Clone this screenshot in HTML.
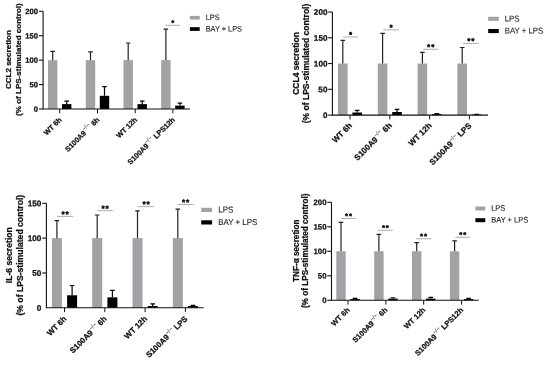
<!DOCTYPE html>
<html><head><meta charset="utf-8"><title>Figure</title>
<style>
html,body{margin:0;padding:0;background:#fff;}
body{width:550px;height:365px;overflow:hidden;}
svg{display:block;}
text{font-family:'Liberation Sans', Arial, sans-serif;font-weight:bold;fill:#111;stroke:#111;stroke-width:0.25px;}
.st{stroke:#000;stroke-width:0.35px;fill:#000;}
.lg{font-weight:normal;fill:#222;stroke:#222;stroke-width:0.1px;}
.sup{font-size:5.7px;font-weight:normal;fill:#5a5a5a;stroke:#5a5a5a;stroke-width:0.12px;}
</style></head>
<body>
<svg width="550" height="365" viewBox="0 0 550 365">
<rect width="550" height="365" fill="#fff"/>
<g>
<rect x="48" y="60.15" width="9.4" height="48.85" fill="#a2a1a6"/>
<rect x="62" y="104.11" width="9.4" height="4.89" fill="#000"/>
<path d="M52.7 60.15V51.3M50.4 51.3H55" stroke="#222" stroke-width="1.2" fill="none"/>
<path d="M66.7 104.11V101.18M64.4 101.18H69" stroke="#000" stroke-width="1.2" fill="none"/>
<path d="M59.7 109V113.3" stroke="#111" stroke-width="1"/>
<text transform="translate(62.1,120.3) rotate(-45)" text-anchor="end" class="lb" style="font-size:7.29px">WT 6h</text>
<rect x="85.8" y="60.15" width="9.4" height="48.85" fill="#a2a1a6"/>
<rect x="99.8" y="95.81" width="9.4" height="13.19" fill="#000"/>
<path d="M90.5 60.15V51.8M88.2 51.8H92.8" stroke="#222" stroke-width="1.2" fill="none"/>
<path d="M104.5 95.81V86.53M102.2 86.53H106.8" stroke="#000" stroke-width="1.2" fill="none"/>
<path d="M97.5 109V113.3" stroke="#111" stroke-width="1"/>
<text transform="translate(99.9,120.3) rotate(-45)" text-anchor="end" class="lb" style="font-size:7.29px">S100A9<tspan class="sup" dy="-3.4">−/−</tspan><tspan dy="3.4"> 6h</tspan></text>
<rect x="123.5" y="60.15" width="9.4" height="48.85" fill="#a2a1a6"/>
<rect x="137.5" y="104.11" width="9.4" height="4.89" fill="#000"/>
<path d="M128.2 60.15V43M125.9 43H130.5" stroke="#222" stroke-width="1.2" fill="none"/>
<path d="M142.2 104.11V101.18M139.9 101.18H144.5" stroke="#000" stroke-width="1.2" fill="none"/>
<path d="M135.2 109V113.3" stroke="#111" stroke-width="1"/>
<text transform="translate(137.6,120.3) rotate(-45)" text-anchor="end" class="lb" style="font-size:7.29px">WT 12h</text>
<rect x="161.2" y="60.15" width="9.4" height="48.85" fill="#a2a1a6"/>
<rect x="175.2" y="105.58" width="9.4" height="3.42" fill="#000"/>
<path d="M165.9 60.15V29.05M163.6 29.05H168.2" stroke="#222" stroke-width="1.2" fill="none"/>
<path d="M179.9 105.58V103.14M177.6 103.14H182.2" stroke="#000" stroke-width="1.2" fill="none"/>
<path d="M172.9 109V113.3" stroke="#111" stroke-width="1"/>
<path d="M165.3 25.3H180.2" stroke="#a4a4a4" stroke-width="0.9"/>
<text transform="translate(172.75,25.54) rotate(0.06)" text-anchor="middle" class="st" style="font-size:7.65px">*</text>
<text transform="translate(175.3,120.3) rotate(-45)" text-anchor="end" class="lb" style="font-size:7.29px">S100A9<tspan class="sup" dy="-3.4">−/−</tspan><tspan dy="3.4"> LPS12h</tspan></text>
<path d="M43.1 11.3V109H190" stroke="#111" stroke-width="1.1" fill="none"/>
<path d="M38.9 109H43.1" stroke="#111" stroke-width="1.1"/>
<text transform="translate(38.1,111.71) rotate(0.06)" text-anchor="end" class="tk" style="font-size:7.65px">0</text>
<path d="M38.9 84.58H43.1" stroke="#111" stroke-width="1.1"/>
<text transform="translate(38.1,87.29) rotate(0.06)" text-anchor="end" class="tk" style="font-size:7.65px">50</text>
<path d="M38.9 60.15H43.1" stroke="#111" stroke-width="1.1"/>
<text transform="translate(38.1,62.86) rotate(0.06)" text-anchor="end" class="tk" style="font-size:7.65px">100</text>
<path d="M38.9 35.73H43.1" stroke="#111" stroke-width="1.1"/>
<text transform="translate(38.1,38.44) rotate(0.06)" text-anchor="end" class="tk" style="font-size:7.65px">150</text>
<path d="M38.9 11.3H43.1" stroke="#111" stroke-width="1.1"/>
<text transform="translate(38.1,14.01) rotate(0.06)" text-anchor="end" class="tk" style="font-size:7.65px">200</text>
<rect x="189.9" y="15.9" width="9.8" height="3.7" fill="#a2a1a6"/>
<rect x="189.9" y="27.2" width="9.8" height="3.7" fill="#000"/>
<text transform="translate(205.7,19.9) scale(1,1.08) rotate(0.06)" class="lg" style="font-size:7.37px">LPS</text>
<text transform="translate(205.7,31.5) scale(1,1.08) rotate(0.06)" class="lg" style="font-size:7.37px">BAY + LPS</text>
<text transform="translate(10.8,59.6) rotate(-90)" text-anchor="middle" class="yt" style="font-size:8.05px">CCL2 secretion</text>
<text transform="translate(20.7,59.6) rotate(-90)" text-anchor="middle" class="yt" style="font-size:8.05px">(% of LPS-stimulated control)</text>
</g>
<g>
<rect x="338" y="63.55" width="9.6" height="51.55" fill="#a2a1a6"/>
<rect x="352.4" y="112.52" width="9.6" height="2.58" fill="#000"/>
<path d="M342.8 63.55V40.3M340.5 40.3H345.1" stroke="#222" stroke-width="1.2" fill="none"/>
<path d="M357.2 112.52V110.46M354.9 110.46H359.5" stroke="#000" stroke-width="1.2" fill="none"/>
<path d="M350 115.1V119.4" stroke="#111" stroke-width="1"/>
<path d="M343.1 37H358.1" stroke="#a4a4a4" stroke-width="0.9"/>
<text transform="translate(350.6,37.46) rotate(0.06)" text-anchor="middle" class="st" style="font-size:8.12px">*</text>
<text transform="translate(352.6,126.1) rotate(-45)" text-anchor="end" class="lb" style="font-size:8.12px">WT 6h</text>
<rect x="377.8" y="63.55" width="9.6" height="51.55" fill="#a2a1a6"/>
<rect x="392.2" y="112.01" width="9.6" height="3.09" fill="#000"/>
<path d="M382.6 63.55V33.3M380.3 33.3H384.9" stroke="#222" stroke-width="1.2" fill="none"/>
<path d="M397 112.01V109.43M394.7 109.43H399.3" stroke="#000" stroke-width="1.2" fill="none"/>
<path d="M389.8 115.1V119.4" stroke="#111" stroke-width="1"/>
<path d="M383.1 29.9H398.9" stroke="#a4a4a4" stroke-width="0.9"/>
<text transform="translate(391,30.36) rotate(0.06)" text-anchor="middle" class="st" style="font-size:8.12px">*</text>
<text transform="translate(392.4,126.1) rotate(-45)" text-anchor="end" class="lb" style="font-size:8.12px">S100A9<tspan class="sup" dy="-3.4">−/−</tspan><tspan dy="3.4"> 6h</tspan></text>
<rect x="417.6" y="63.55" width="9.6" height="51.55" fill="#a2a1a6"/>
<rect x="432" y="114.07" width="9.6" height="1.03" fill="#000"/>
<path d="M422.4 63.55V52.4M420.1 52.4H424.7" stroke="#222" stroke-width="1.2" fill="none"/>
<path d="M436.8 114.07V113.55M434.5 113.55H439.1" stroke="#000" stroke-width="1.2" fill="none"/>
<path d="M429.6 115.1V119.4" stroke="#111" stroke-width="1"/>
<path d="M423.1 49.3H438.3" stroke="#a4a4a4" stroke-width="0.9"/>
<text transform="translate(428.69,49.76) rotate(0.06)" text-anchor="middle" class="st" style="font-size:8.12px">*</text>
<text transform="translate(432.71,49.76) rotate(0.06)" text-anchor="middle" class="st" style="font-size:8.12px">*</text>
<text transform="translate(432.2,126.1) rotate(-45)" text-anchor="end" class="lb" style="font-size:8.12px">WT 12h</text>
<rect x="457.4" y="63.55" width="9.6" height="51.55" fill="#a2a1a6"/>
<rect x="471.8" y="114.58" width="9.6" height="0.52" fill="#000"/>
<path d="M462.2 63.55V47.5M459.9 47.5H464.5" stroke="#222" stroke-width="1.2" fill="none"/>
<path d="M476.6 114.58V114.33M474.3 114.33H478.9" stroke="#000" stroke-width="1.2" fill="none"/>
<path d="M469.4 115.1V119.4" stroke="#111" stroke-width="1"/>
<path d="M463.1 43.4H478.6" stroke="#a4a4a4" stroke-width="0.9"/>
<text transform="translate(468.84,43.86) rotate(0.06)" text-anchor="middle" class="st" style="font-size:8.12px">*</text>
<text transform="translate(472.86,43.86) rotate(0.06)" text-anchor="middle" class="st" style="font-size:8.12px">*</text>
<text transform="translate(472,126.1) rotate(-45)" text-anchor="end" class="lb" style="font-size:8.12px">S100A9<tspan class="sup" dy="-3.4">−/−</tspan><tspan dy="3.4"> LPS</tspan></text>
<path d="M332.4 12V115.1H488" stroke="#111" stroke-width="1.1" fill="none"/>
<path d="M328.2 115.1H332.4" stroke="#111" stroke-width="1.1"/>
<text transform="translate(327.4,117.98) rotate(0.06)" text-anchor="end" class="tk" style="font-size:8.12px">0</text>
<path d="M328.2 89.32H332.4" stroke="#111" stroke-width="1.1"/>
<text transform="translate(327.4,92.21) rotate(0.06)" text-anchor="end" class="tk" style="font-size:8.12px">50</text>
<path d="M328.2 63.55H332.4" stroke="#111" stroke-width="1.1"/>
<text transform="translate(327.4,66.43) rotate(0.06)" text-anchor="end" class="tk" style="font-size:8.12px">100</text>
<path d="M328.2 37.78H332.4" stroke="#111" stroke-width="1.1"/>
<text transform="translate(327.4,40.66) rotate(0.06)" text-anchor="end" class="tk" style="font-size:8.12px">150</text>
<path d="M328.2 12H332.4" stroke="#111" stroke-width="1.1"/>
<text transform="translate(327.4,14.88) rotate(0.06)" text-anchor="end" class="tk" style="font-size:8.12px">200</text>
<rect x="488.2" y="16.8" width="10.6" height="4.1" fill="#a2a1a6"/>
<rect x="488.2" y="29" width="10.6" height="4.1" fill="#000"/>
<text transform="translate(504.7,21.6) scale(1,1.08) rotate(0.06)" class="lg" style="font-size:7.82px">LPS</text>
<text transform="translate(504.7,33.4) scale(1,1.08) rotate(0.06)" class="lg" style="font-size:7.82px">BAY + LPS</text>
<text transform="translate(298.5,63.5) rotate(-90)" text-anchor="middle" class="yt" style="font-size:8.55px">CCL4 secretion</text>
<text transform="translate(308.6,63.5) rotate(-90)" text-anchor="middle" class="yt" style="font-size:8.55px">(% of LPS-stimulated control)</text>
</g>
<g>
<rect x="51.9" y="238.13" width="10" height="69.67" fill="#a2a1a6"/>
<rect x="67.1" y="295.26" width="10" height="12.54" fill="#000"/>
<path d="M56.9 238.13V220.7M54.6 220.7H59.2" stroke="#222" stroke-width="1.2" fill="none"/>
<path d="M72.1 295.26V285.51M69.8 285.51H74.4" stroke="#000" stroke-width="1.2" fill="none"/>
<path d="M64.5 307.8V312.1" stroke="#111" stroke-width="1"/>
<path d="M57.1 216.4H73.1" stroke="#a4a4a4" stroke-width="0.9"/>
<text transform="translate(63.07,216.9) rotate(0.06)" text-anchor="middle" class="st" style="font-size:8.22px">*</text>
<text transform="translate(67.13,216.9) rotate(0.06)" text-anchor="middle" class="st" style="font-size:8.22px">*</text>
<text transform="translate(67,319.4) rotate(-45)" text-anchor="end" class="lb" style="font-size:7.96px">WT 6h</text>
<rect x="92.2" y="238.13" width="10" height="69.67" fill="#a2a1a6"/>
<rect x="107.4" y="297.35" width="10" height="10.45" fill="#000"/>
<path d="M97.2 238.13V215M94.9 215H99.5" stroke="#222" stroke-width="1.2" fill="none"/>
<path d="M112.4 297.35V290.38M110.1 290.38H114.7" stroke="#000" stroke-width="1.2" fill="none"/>
<path d="M104.8 307.8V312.1" stroke="#111" stroke-width="1"/>
<path d="M97.1 210.7H112.9" stroke="#a4a4a4" stroke-width="0.9"/>
<text transform="translate(102.97,211.2) rotate(0.06)" text-anchor="middle" class="st" style="font-size:8.22px">*</text>
<text transform="translate(107.03,211.2) rotate(0.06)" text-anchor="middle" class="st" style="font-size:8.22px">*</text>
<text transform="translate(107.3,319.4) rotate(-45)" text-anchor="end" class="lb" style="font-size:7.96px">S100A9<tspan class="sup" dy="-3.4">−/−</tspan><tspan dy="3.4"> 6h</tspan></text>
<rect x="132.5" y="238.13" width="10" height="69.67" fill="#a2a1a6"/>
<rect x="147.7" y="306.06" width="10" height="1.74" fill="#000"/>
<path d="M137.5 238.13V210.9M135.2 210.9H139.8" stroke="#222" stroke-width="1.2" fill="none"/>
<path d="M152.7 306.06V303.97M150.4 303.97H155" stroke="#000" stroke-width="1.2" fill="none"/>
<path d="M145.1 307.8V312.1" stroke="#111" stroke-width="1"/>
<path d="M138.1 206.6H153.9" stroke="#a4a4a4" stroke-width="0.9"/>
<text transform="translate(143.97,207.1) rotate(0.06)" text-anchor="middle" class="st" style="font-size:8.22px">*</text>
<text transform="translate(148.03,207.1) rotate(0.06)" text-anchor="middle" class="st" style="font-size:8.22px">*</text>
<text transform="translate(147.6,319.4) rotate(-45)" text-anchor="end" class="lb" style="font-size:7.96px">WT 12h</text>
<rect x="172.8" y="238.13" width="10" height="69.67" fill="#a2a1a6"/>
<rect x="188" y="306.06" width="10" height="1.74" fill="#000"/>
<path d="M177.8 238.13V209.1M175.5 209.1H180.1" stroke="#222" stroke-width="1.2" fill="none"/>
<path d="M193 306.06V305.36M190.7 305.36H195.3" stroke="#000" stroke-width="1.2" fill="none"/>
<path d="M185.4 307.8V312.1" stroke="#111" stroke-width="1"/>
<path d="M177.6 204.5H193.6" stroke="#a4a4a4" stroke-width="0.9"/>
<text transform="translate(183.57,205) rotate(0.06)" text-anchor="middle" class="st" style="font-size:8.22px">*</text>
<text transform="translate(187.63,205) rotate(0.06)" text-anchor="middle" class="st" style="font-size:8.22px">*</text>
<text transform="translate(187.9,319.4) rotate(-45)" text-anchor="end" class="lb" style="font-size:7.96px">S100A9<tspan class="sup" dy="-3.4">−/−</tspan><tspan dy="3.4"> LPS</tspan></text>
<path d="M46.4 203.3V307.8H203.7" stroke="#111" stroke-width="1.1" fill="none"/>
<text transform="translate(41.4,310.72) rotate(0.06)" text-anchor="end" class="tk" style="font-size:8.22px">0</text>
<path d="M42.2 272.97H46.4" stroke="#111" stroke-width="1.1"/>
<text transform="translate(41.4,275.88) rotate(0.06)" text-anchor="end" class="tk" style="font-size:8.22px">50</text>
<path d="M42.2 238.13H46.4" stroke="#111" stroke-width="1.1"/>
<text transform="translate(41.4,241.05) rotate(0.06)" text-anchor="end" class="tk" style="font-size:8.22px">100</text>
<path d="M42.2 203.3H46.4" stroke="#111" stroke-width="1.1"/>
<text transform="translate(41.4,206.22) rotate(0.06)" text-anchor="end" class="tk" style="font-size:8.22px">150</text>
<rect x="201.2" y="207.8" width="10.9" height="4.2" fill="#a2a1a6"/>
<rect x="201.2" y="220.3" width="10.9" height="4.2" fill="#000"/>
<text transform="translate(218.3,212.6) scale(1,1.08) rotate(0.06)" class="lg" style="font-size:7.91px">LPS</text>
<text transform="translate(218.3,225) scale(1,1.08) rotate(0.06)" class="lg" style="font-size:7.91px">BAY + LPS</text>
<text transform="translate(12.3,255.2) rotate(-90)" text-anchor="middle" class="yt" style="font-size:8.65px">IL-6 secretion</text>
<text transform="translate(22.6,255.2) rotate(-90)" text-anchor="middle" class="yt" style="font-size:8.65px">(% of LPS-stimulated control)</text>
</g>
<g>
<rect x="336.3" y="251.3" width="9.4" height="49" fill="#a2a1a6"/>
<rect x="350.3" y="299.07" width="9.4" height="1.23" fill="#000"/>
<path d="M341 251.3V222.4M338.7 222.4H343.3" stroke="#222" stroke-width="1.2" fill="none"/>
<path d="M355 299.07V298.44M352.7 298.44H357.3" stroke="#000" stroke-width="1.2" fill="none"/>
<path d="M348 300.3V304.6" stroke="#111" stroke-width="1"/>
<path d="M340.8 218.4H356.3" stroke="#a4a4a4" stroke-width="0.9"/>
<text transform="translate(346.62,218.71) rotate(0.06)" text-anchor="middle" class="st" style="font-size:7.79px">*</text>
<text transform="translate(350.48,218.71) rotate(0.06)" text-anchor="middle" class="st" style="font-size:7.79px">*</text>
<text transform="translate(350.1,310.6) rotate(-45)" text-anchor="end" class="lb" style="font-size:7.46px">WT 6h</text>
<rect x="374.2" y="251.3" width="9.4" height="49" fill="#a2a1a6"/>
<rect x="388.2" y="298.59" width="9.4" height="1.71" fill="#000"/>
<path d="M378.9 251.3V234.4M376.6 234.4H381.2" stroke="#222" stroke-width="1.2" fill="none"/>
<path d="M392.9 298.59V297.75M390.6 297.75H395.2" stroke="#000" stroke-width="1.2" fill="none"/>
<path d="M385.9 300.3V304.6" stroke="#111" stroke-width="1"/>
<path d="M378 230.2H392.9" stroke="#a4a4a4" stroke-width="0.9"/>
<text transform="translate(383.52,230.51) rotate(0.06)" text-anchor="middle" class="st" style="font-size:7.79px">*</text>
<text transform="translate(387.38,230.51) rotate(0.06)" text-anchor="middle" class="st" style="font-size:7.79px">*</text>
<text transform="translate(388,310.6) rotate(-45)" text-anchor="end" class="lb" style="font-size:7.46px">S100A9<tspan class="sup" dy="-3.4">−/−</tspan><tspan dy="3.4"> 6h</tspan></text>
<rect x="412" y="251.3" width="9.4" height="49" fill="#a2a1a6"/>
<rect x="426" y="298.59" width="9.4" height="1.71" fill="#000"/>
<path d="M416.7 251.3V242.7M414.4 242.7H419" stroke="#222" stroke-width="1.2" fill="none"/>
<path d="M430.7 298.59V297.46M428.4 297.46H433" stroke="#000" stroke-width="1.2" fill="none"/>
<path d="M423.7 300.3V304.6" stroke="#111" stroke-width="1"/>
<path d="M416.2 238.8H430.9" stroke="#a4a4a4" stroke-width="0.9"/>
<text transform="translate(421.62,239.11) rotate(0.06)" text-anchor="middle" class="st" style="font-size:7.79px">*</text>
<text transform="translate(425.48,239.11) rotate(0.06)" text-anchor="middle" class="st" style="font-size:7.79px">*</text>
<text transform="translate(425.8,310.6) rotate(-45)" text-anchor="end" class="lb" style="font-size:7.46px">WT 12h</text>
<rect x="449.9" y="251.3" width="9.4" height="49" fill="#a2a1a6"/>
<rect x="463.9" y="299.07" width="9.4" height="1.23" fill="#000"/>
<path d="M454.6 251.3V240.8M452.3 240.8H456.9" stroke="#222" stroke-width="1.2" fill="none"/>
<path d="M468.6 299.07V298.44M466.3 298.44H470.9" stroke="#000" stroke-width="1.2" fill="none"/>
<path d="M461.6 300.3V304.6" stroke="#111" stroke-width="1"/>
<path d="M455.3 237.3H470.3" stroke="#a4a4a4" stroke-width="0.9"/>
<text transform="translate(460.87,237.61) rotate(0.06)" text-anchor="middle" class="st" style="font-size:7.79px">*</text>
<text transform="translate(464.73,237.61) rotate(0.06)" text-anchor="middle" class="st" style="font-size:7.79px">*</text>
<text transform="translate(463.7,310.6) rotate(-45)" text-anchor="end" class="lb" style="font-size:7.46px">S100A9<tspan class="sup" dy="-3.4">−/−</tspan><tspan dy="3.4"> LPS12h</tspan></text>
<path d="M331.5 202.3V300.3H478.8" stroke="#111" stroke-width="1.1" fill="none"/>
<path d="M327.3 300.3H331.5" stroke="#111" stroke-width="1.1"/>
<text transform="translate(326.5,303.07) rotate(0.06)" text-anchor="end" class="tk" style="font-size:7.79px">0</text>
<path d="M327.3 275.8H331.5" stroke="#111" stroke-width="1.1"/>
<text transform="translate(326.5,278.57) rotate(0.06)" text-anchor="end" class="tk" style="font-size:7.79px">50</text>
<path d="M327.3 251.3H331.5" stroke="#111" stroke-width="1.1"/>
<text transform="translate(326.5,254.07) rotate(0.06)" text-anchor="end" class="tk" style="font-size:7.79px">100</text>
<path d="M327.3 226.8H331.5" stroke="#111" stroke-width="1.1"/>
<text transform="translate(326.5,229.57) rotate(0.06)" text-anchor="end" class="tk" style="font-size:7.79px">150</text>
<path d="M327.3 202.3H331.5" stroke="#111" stroke-width="1.1"/>
<text transform="translate(326.5,205.07) rotate(0.06)" text-anchor="end" class="tk" style="font-size:7.79px">200</text>
<rect x="475.4" y="206.5" width="9.9" height="4" fill="#a2a1a6"/>
<rect x="475.4" y="218.2" width="9.9" height="4" fill="#000"/>
<text transform="translate(491.2,210.8) scale(1,1.08) rotate(0.06)" class="lg" style="font-size:7.5px">LPS</text>
<text transform="translate(491.2,222.5) scale(1,1.08) rotate(0.06)" class="lg" style="font-size:7.5px">BAY + LPS</text>
<text transform="translate(299,250.8) rotate(-90)" text-anchor="middle" class="yt" style="font-size:8.2px">TNF-α secretion</text>
<text transform="translate(308.3,250.8) rotate(-90)" text-anchor="middle" class="yt" style="font-size:8.2px">(% of LPS-stimulated control)</text>
</g>
</svg>
</body></html>
